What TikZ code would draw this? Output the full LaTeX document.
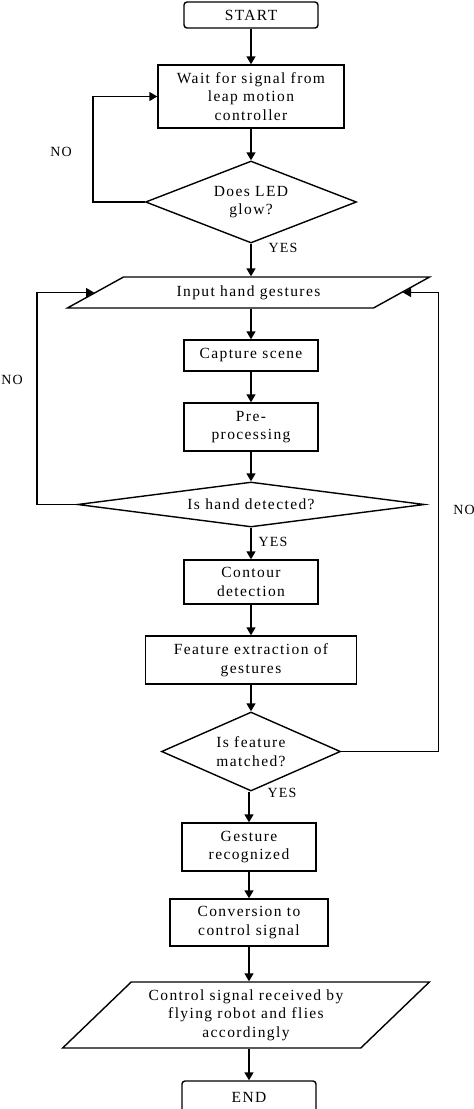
\documentclass[tikz,border=0pt]{standalone}
\usepackage{fontspec}
\setmainfont{Liberation Serif}[LetterSpace=9]
\usetikzlibrary{shapes.geometric, arrows.meta}

\tikzset{
	txt/.style={font=\fontsize{15.5}{18.5}\selectfont, align=center, inner sep=0pt},
	box/.style={txt, draw, line width=1.4pt, rectangle},
	term/.style={box, rounded corners=3pt},
	decision/.style={txt, draw, line width=1.4pt, diamond},
	io/.style={txt, draw, line width=1.4pt, trapezium, trapezium stretches=true},
	arrow/.style={line width=1.4pt, -{Triangle[length=8pt, width=9pt]}},
	lbl/.style={font=\fontsize{14}{16}\selectfont, inner sep=0pt}
}

\begin{document}
\begin{tikzpicture}[x=1pt, y=-1pt]
	\useasboundingbox (0,0) rectangle (474,1109);

	\node[term, minimum width=134, minimum height=26] (start) at (251,15) {START};
	\node[box, minimum width=186, minimum height=63] (wait) at (251,96.5) {Wait for signal from\\leap motion\\controller};
	\node[decision, minimum width=211, minimum height=82, aspect=2.57] (led) at (251,202) {Does LED\\glow?};
	\node[io, trapezium left angle=23.6, trapezium right angle=156.4, minimum width=363, minimum height=31] (input) at (248.5,292.5) {Input hand gestures};
	\node[box, minimum width=134, minimum height=31] (capture) at (251,355.5) {Capture scene};
	\node[box, minimum width=134, minimum height=48] (preproc) at (251,427) {Pre-\\processing};
	\node[decision, minimum width=347, minimum height=45, aspect=7.7] (hand) at (251,504.5) {Is hand detected?};
	\node[box, minimum width=134, minimum height=44] (contour) at (251,582) {Contour\\detection};
	\node[box, minimum width=211, minimum height=48] (feature) at (251,660) {Feature extraction of\\gestures};
	\node[decision, minimum width=179, minimum height=79, aspect=2.27] (match) at (251,751.5) {Is feature\\matched?};
	\node[box, minimum width=134, minimum height=48] (gesture) at (249,847) {Gesture\\recognized};
	\node[box, minimum width=158, minimum height=47] (convert) at (249,922.5) {Conversion to\\control signal};
	\node[io, trapezium left angle=41.3, trapezium right angle=138.7, minimum width=368, minimum height=66] (robot) at (246,1015) {Control signal received by\\flying robot and flies\\accordingly};
	\node[term, minimum width=134, minimum height=32] (end) at (249,1097) {END};

	\draw[arrow] (start) -- (wait);
	\draw[arrow] (wait) -- (led);
	\draw[arrow] (led) -- (led |- input.north);
	\draw[arrow] (input.south -| capture) -- (capture);
	\draw[arrow] (capture) -- (preproc);
	\draw[arrow] (preproc) -- (hand);
	\draw[arrow] (hand) -- (contour);
	\draw[arrow] (contour) -- (feature);
	\draw[arrow] (feature) -- (match);
	\draw[arrow] (match.south -| gesture) -- (gesture);
	\draw[arrow] (gesture) -- (convert);
	\draw[arrow] (convert) -- (convert |- robot.north);
	\draw[arrow] (robot.south -| end) -- (end);

	\draw[arrow] (led.west) -- ++(-52,0) |- (wait.west);
	\draw[arrow] (hand.west) -- ++(-40,0) |- (input.west);
	\draw[arrow] (match.east) -- ++(97,0) |- (input.east);

	\node[lbl] (no1) at (61,152) {NO};
	\node[lbl] (no2) at (12,380) {NO};
	\node[lbl] (no3) at (464,510) {NO};
	\node[lbl] (yes1) at (283,248) {YES};
	\node[lbl] (yes2) at (273,542) {YES};
	\node[lbl] (yes3) at (282,793) {YES};
\end{tikzpicture}
\end{document}
